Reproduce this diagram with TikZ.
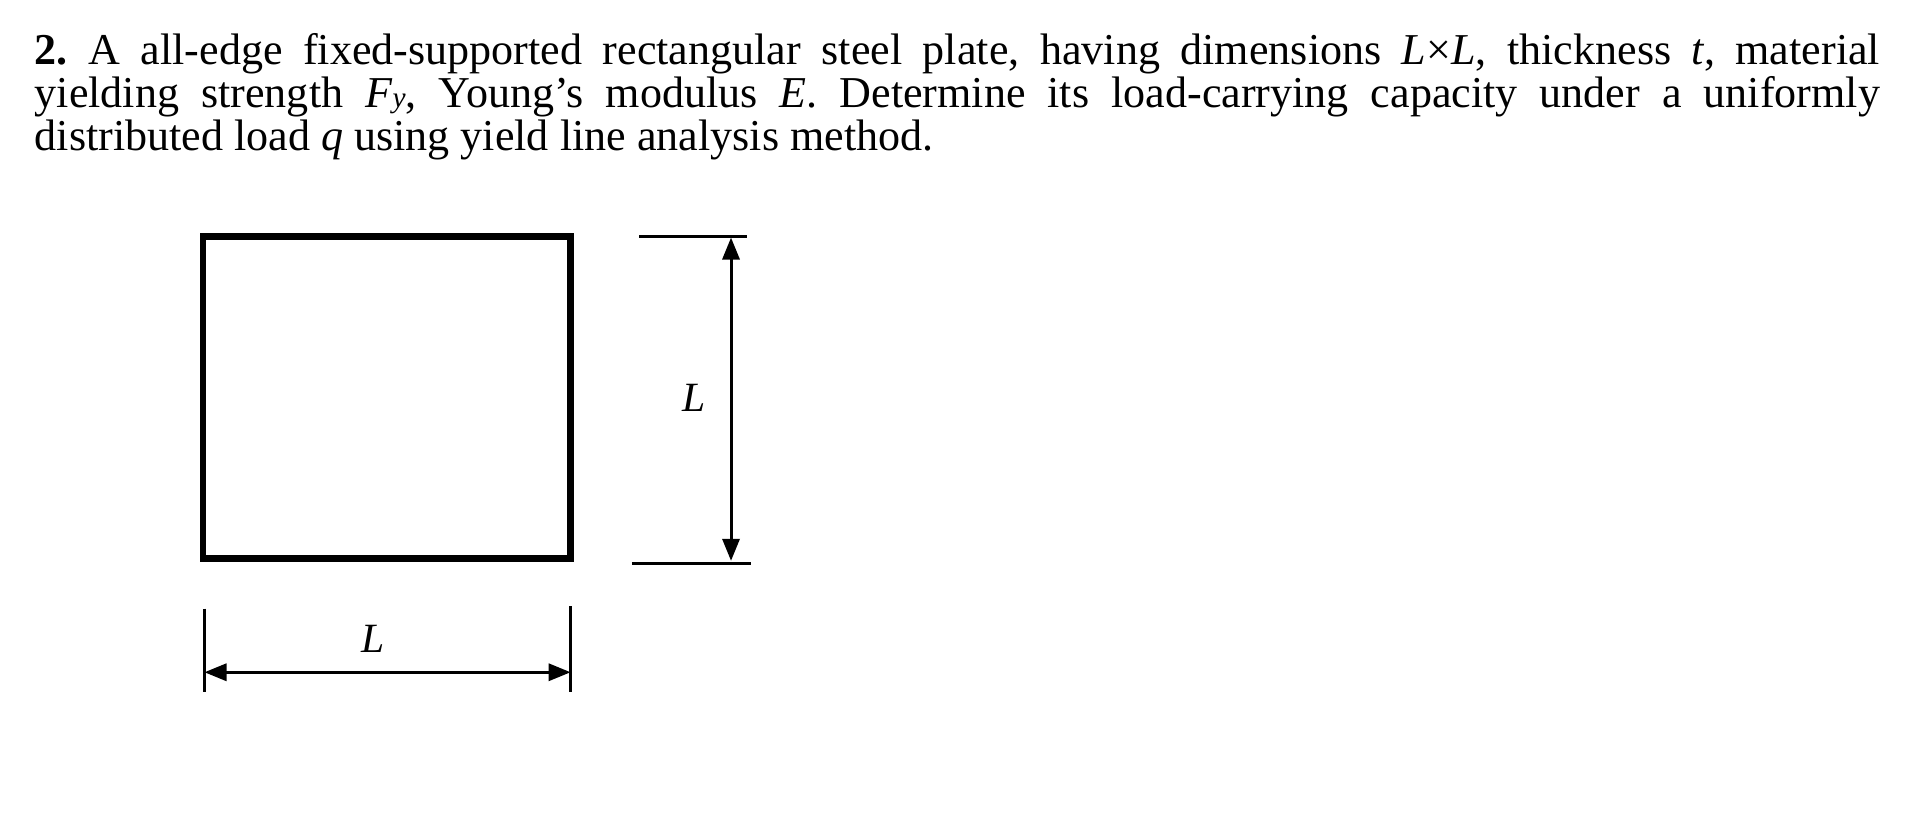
\documentclass[tikz,border=0pt]{standalone}
\usepackage{fontspec}
\setmainfont{Liberation Serif}
\usetikzlibrary{arrows.meta}
\begin{document}
\frenchspacing
\begin{tikzpicture}[x=0.5pt,y=-0.5pt,
  dim/.style={line width=1.2pt,{Triangle[length=9pt,width=7pt]}-{Triangle[length=9pt,width=7pt]}},
  ext/.style={line width=1pt},
  lbl/.style={font=\fontsize{17}{18}\selectfont\itshape}]
\useasboundingbox (0,0) rectangle (1568,681);
\node[anchor=north west,inner sep=0pt,text width=753.5pt,align=justify,
  font=\fontsize{18}{17.5}\selectfont] (txt) at (28,27)
{\textbf{2.} A all-edge fixed-supported rectangular steel plate, having dimensions \textit{L}×\textit{L}, thickness \textit{t}, material\linebreak yielding strength \textit{F}{\fontsize{12}{12}\selectfont\textit{y}}, Young’s modulus \textit{E}. Determine its load-carrying capacity under a uniformly\linebreak distributed load \textit{q} using yield line analysis method.};
\draw[line width=2.6pt] (166,193) rectangle (466,456);
\coordinate (vt) at (597,194); \coordinate (vb) at (597,458);
\draw[ext] (522,193) -- (610,193);
\draw[ext] (516,460) -- (613,460);
\draw[dim] (vt) -- (vb);
\node[lbl] (lv) at (567,325) {L};
\coordinate (hl) at (167,549); \coordinate (hr) at (466,549);
\draw[ext] (167,497) -- (167,565);
\draw[ext] (466,495) -- (466,565);
\draw[dim] (hl) -- (hr);
\node[lbl] (lh) at (305,522) {L};
\end{tikzpicture}
\end{document}
